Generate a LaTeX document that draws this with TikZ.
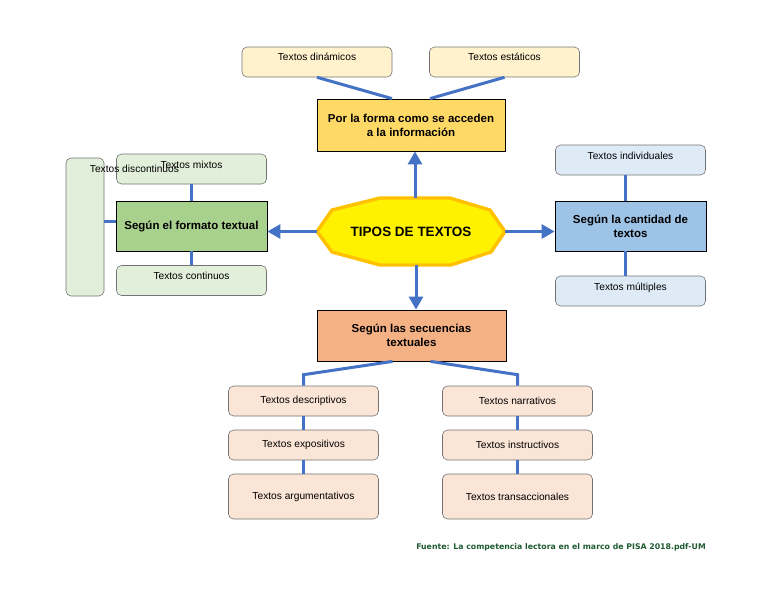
\documentclass[tikz,border=0pt]{standalone}
\usepackage{fontspec}
\setmainfont{Liberation Sans}
\newfontfamily\footfont{DejaVu Sans}
\usepackage{xcolor}
\usetikzlibrary{arrows.meta, calc, positioning}

\definecolor{linkblue}{HTML}{4472C4}
\definecolor{formafill}{HTML}{FFD966}
\definecolor{formatofill}{HTML}{A9D18E}
\definecolor{cantfill}{HTML}{9DC3E6}
\definecolor{secufill}{HTML}{F4B183}
\definecolor{leafyellow}{HTML}{FFF2CC}
\definecolor{leafgreen}{HTML}{E2EFDA}
\definecolor{leafblue}{HTML}{DEEBF7}
\definecolor{leafpeach}{HTML}{FBE5D6}
\definecolor{hubborder}{HTML}{FFC000}
\definecolor{footgreen}{RGB}{30,90,50}

\begin{document}
\begin{tikzpicture}[x=1pt, y=-1pt,
    link/.style={linkblue, line width=3pt},
    arr/.style={link, -{Triangle[length=13pt,width=14pt]}},
    leaf/.style={draw=black!55, line width=0.6pt, rounded corners=5pt,
      minimum width=150pt, minimum height=30pt, inner sep=0pt,
      font=\fontsize{10.2}{12}\selectfont},
    upper/.style={text height=7pt, text depth=9pt},
    main/.style={draw=black, line width=0.8pt, minimum width=151pt,
      minimum height=50pt, inner sep=0pt, align=center,
      font=\bfseries\fontsize{11.5}{14}\selectfont}]
    \useasboundingbox (0,0) rectangle (768,594);

    % Centre
    \node[minimum width=188pt, minimum height=67pt, inner sep=0pt] (tipos) at (411,231.5) {};
    \draw[hubborder, fill=yellow, line width=3.4pt, line join=round, shift={(tipos.center)}]
      (94,0) -- (79,-21.5) -- (39,-33.5) -- (-31,-33.5) -- (-79,-21.5)
      -- (-94,0) -- (-79,20.5) -- (-31,33.5) -- (40,33.5) -- (80,20.5) -- cycle;
    \node[font=\bfseries\fontsize{13.5}{16}\selectfont] (tiposlbl) at (tipos) {TIPOS DE TEXTOS};

    % Top
    \node[main, minimum width=188pt, minimum height=52pt, fill=formafill] (forma) at (411,125)
      {Por la forma como se acceden\\a la informaci\'on};
    \node[leaf, upper, fill=leafyellow] (dyn) at (317,62) {Textos din\'amicos};
    \node[leaf, upper, fill=leafyellow] (est) at (504.5,62) {Textos est\'aticos};
    \draw[link] (dyn.south) -- ([xshift=-19pt]forma.north);
    \draw[link] (est.south) -- ([xshift=19pt]forma.north);
    \draw[arr] ([xshift=4pt]tipos.north) -- ([xshift=4pt]tipos.north |- forma.south);

    % Left
    \node[main, fill=formatofill] (formato) at (191.5,226) {Seg\'un el formato textual};
    \node[leaf, upper, fill=leafgreen] (mix) at (191.5,169) {Textos mixtos};
    \node[leaf, upper, fill=leafgreen] (cont) at (191.5,280.5) {Textos continuos};
    \node[leaf, fill=leafgreen, minimum width=38pt, minimum height=138pt] (disc) at (85,227) {};
    \node[font=\fontsize{10.2}{12}\selectfont, anchor=west, inner sep=0pt] (disctext)
      at ($(disc.north west)+(24,11)$) {Textos discontinuos};
    \coordinate (fw) at ($(formato.west)+(0,-5)$);
    \draw[link] (mix.south) -- (formato.north);
    \draw[link] (formato.south) -- (cont.north);
    \draw[link] (disc.east |- fw) -- (fw);
    \draw[arr] (tipos.west) -- (tipos.west -| formato.east);

    % Right
    \node[main, fill=cantfill] (cant) at (630.5,226) {Seg\'un la cantidad de\\textos};
    \node[leaf, upper, fill=leafblue] (ind) at (630.5,160) {Textos individuales};
    \node[leaf, upper, fill=leafblue] (mult) at (630.5,291) {Textos m\'ultiples};
    \draw[link] ([xshift=-5pt]ind.south) -- ([xshift=-5pt]cant.north);
    \draw[link] ([xshift=-5pt]cant.south) -- ([xshift=-5pt]mult.north);
    \draw[arr] (tipos.east) -- (tipos.east -| cant.west);

    % Bottom
    \node[main, minimum width=189pt, minimum height=51pt, fill=secufill] (secu) at (411.5,335.5)
      {Seg\'un las secuencias\\textuales};
    \draw[arr] ([xshift=5pt]tipos.south) -- ([xshift=5pt]tipos.south |- secu.north);

    \node[leaf, fill=leafpeach] (desc) at (303.5,401) {Textos descriptivos};
    \node[leaf, fill=leafpeach] (expo) at (303.5,445) {Textos expositivos};
    \node[leaf, fill=leafpeach, minimum height=45pt] (arg) at (303.5,496.5) {Textos argumentativos};
    \node[leaf, fill=leafpeach] (narr) at (517.5,401) {Textos narrativos};
    \node[leaf, fill=leafpeach] (instr) at (517.5,445) {Textos instructivos};
    \node[leaf, fill=leafpeach, minimum height=45pt] (trans) at (517.5,496.5) {Textos transaccionales};

    \draw[link] ([xshift=-19pt]secu.south) -- ($(desc.north)+(0,-11)$) -- (desc.north);
    \draw[link] ([xshift=19pt]secu.south) -- ($(narr.north)+(0,-11)$) -- (narr.north);
    \draw[link] (desc.south) -- (expo.north);
    \draw[link] (expo.south) -- (arg.north);
    \draw[link] (narr.south) -- (instr.north);
    \draw[link] (instr.south) -- (trans.north);

    % Source
    \node[anchor=east, inner sep=0pt, text=footgreen,
      font=\footfont\bfseries\fontsize{7.8}{9}\selectfont] (fuente) at (706,547)
      {Fuente: La competencia lectora en el marco de PISA 2018.pdf-UM};
  \end{tikzpicture}
\end{document}
